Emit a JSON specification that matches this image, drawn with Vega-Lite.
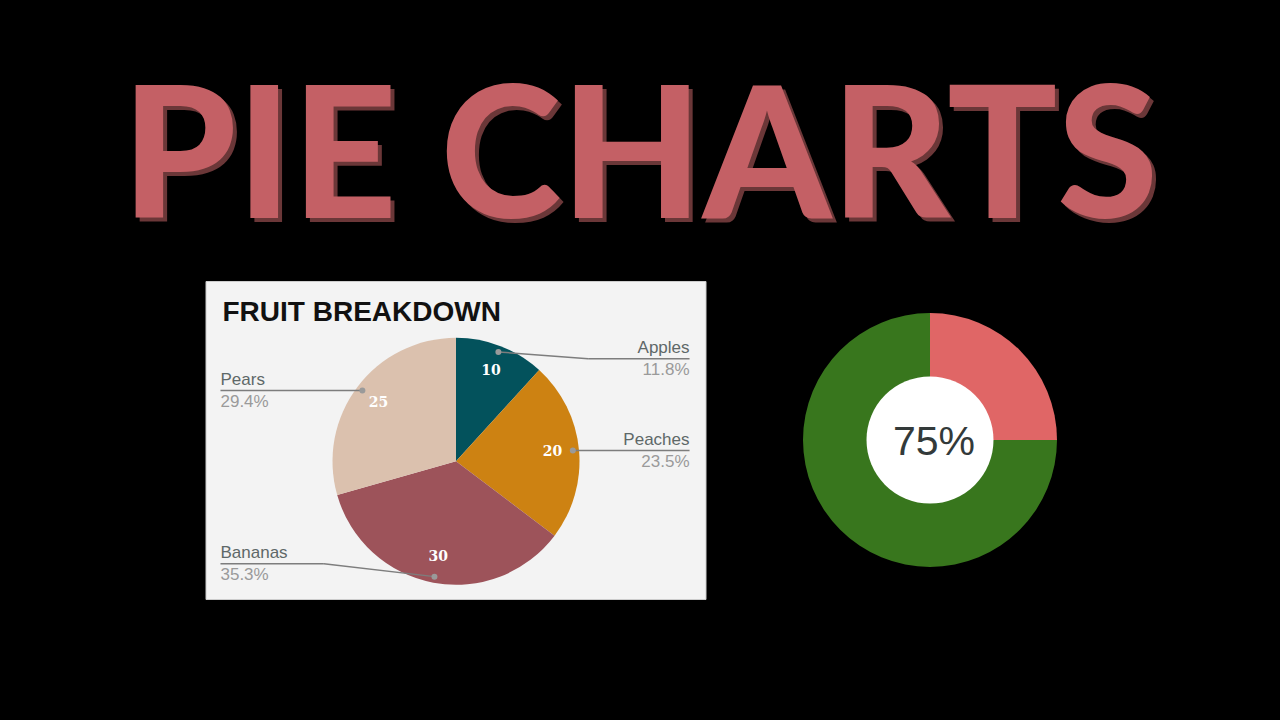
{
  "$schema": "https://vega.github.io/schema/vega-lite/v6.json",
  "background": "black",
  "padding": {"left": 0, "top": 0, "right": 0, "bottom": 122},
  "spacing": 0,
  "center": true,
  "config": {"view": {"stroke": null}},
  "resolve": {"scale": {"color": "independent", "theta": "independent"}},
  "vconcat": [
    {
      "width": 1280,
      "height": 280,
      "data": {"values": [{"t": "PIE CHARTS"}]},
      "layer": [
        {
          "mark": {"type": "text", "font": "Lato", "fontWeight": 900, "fontSize": 183, "align": "center", "baseline": "alphabetic", "fill": "#6b3738", "dx": 4, "dy": 82},
          "encoding": {"text": {"field": "t", "type": "nominal"}}
        },
        {
          "mark": {"type": "text", "font": "Lato", "fontWeight": 900, "fontSize": 183, "align": "center", "baseline": "alphabetic", "fill": "#c46065", "dy": 78},
          "encoding": {"text": {"field": "t", "type": "nominal"}}
        }
      ]
    },
    {
      "spacing": 79,
      "resolve": {"scale": {"color": "independent", "theta": "independent"}},
      "hconcat": [
        {
          "width": 500,
          "height": 318,
          "view": {"fill": "#f3f3f3", "stroke": "#cccccc", "strokeWidth": 1},
          "title": {"text": "FRUIT BREAKDOWN", "anchor": "start", "frame": "group", "offset": -68, "dx": 17, "baseline": "alphabetic", "font": "Liberation Sans", "fontSize": 28, "fontWeight": "bold", "color": "#111111"},
          "data": {"values": [
            {"fruit": "Apples", "value": 10},
            {"fruit": "Peaches", "value": 20},
            {"fruit": "Bananas", "value": 30},
            {"fruit": "Pears", "value": 25}
          ]},
          "transform": [
            {"window": [{"op": "row_number", "as": "i"}]},
            {"joinaggregate": [{"op": "sum", "field": "value", "as": "total"}]},
            {"window": [{"op": "sum", "field": "value", "as": "cum"}], "sort": [{"field": "i"}], "frame": [null, 0]},
            {"calculate": "2*PI*(datum.cum - datum.value/2)/datum.total", "as": "mid"},
            {"calculate": "datum.value/datum.total", "as": "pct"},
            {"calculate": "0.95*sin(datum.mid)", "as": "dx"},
            {"calculate": "0.95*cos(datum.mid)", "as": "dy"},
            {"calculate": "datum.dx > 0 ? 1 : -1", "as": "side"},
            {"calculate": "clamp(datum.dy, -0.83, 0.83)", "as": "ly"},
            {"calculate": "abs(datum.ly - datum.dy) < 1e-9 ? datum.dx : datum.side*1.07", "as": "bx"},
            {"calculate": "datum.side > 0 ? 1.891 : -1.907", "as": "ex"}
          ],
          "layer": [
            {
              "mark": {"type": "arc", "outerRadius": 123.5},
              "encoding": {
                "x": {"datum": 0, "type": "quantitative", "scale": {"domain": [-2.0283, 2.0202], "nice": false, "zero": false}, "axis": null},
                "y": {"datum": 0, "type": "quantitative", "scale": {"domain": [-1.115, 1.46], "nice": false, "zero": false}, "axis": null},
                "theta": {"field": "value", "type": "quantitative", "stack": true},
                "order": {"field": "i", "type": "quantitative"},
                "color": {"field": "fruit", "type": "nominal", "scale": {"domain": ["Apples", "Peaches", "Bananas", "Pears"], "range": ["#03525c", "#cd8212", "#9d535a", "#dbc1ae"]}, "legend": null}
              }
            },
            {
              "mark": {"type": "text", "radius": 97, "font": "DejaVu Serif", "fontWeight": "bold", "fontSize": 14, "fill": "white", "align": "center", "baseline": "middle"},
              "encoding": {
                "x": {"datum": 0, "type": "quantitative", "scale": {"domain": [-2.0283, 2.0202], "nice": false, "zero": false}, "axis": null},
                "y": {"datum": 0, "type": "quantitative", "scale": {"domain": [-1.115, 1.46], "nice": false, "zero": false}, "axis": null},
                "theta": {"field": "value", "type": "quantitative", "stack": true},
                "order": {"field": "i", "type": "quantitative"},
                "detail": {"field": "fruit", "type": "nominal"},
                "text": {"field": "value", "type": "quantitative"}
              }
            },
            {
              "mark": {"type": "rule", "color": "#7d7d7d", "strokeWidth": 1.5},
              "encoding": {
                "x": {"field": "dx", "type": "quantitative", "scale": {"domain": [-2.0283, 2.0202], "nice": false, "zero": false}, "axis": null},
                "y": {"field": "dy", "type": "quantitative", "scale": {"domain": [-1.115, 1.46], "nice": false, "zero": false}, "axis": null},
                "x2": {"field": "bx"},
                "y2": {"field": "ly"}
              }
            },
            {
              "mark": {"type": "rule", "color": "#7d7d7d", "strokeWidth": 1.5},
              "encoding": {
                "x": {"field": "bx", "type": "quantitative", "scale": {"domain": [-2.0283, 2.0202], "nice": false, "zero": false}, "axis": null},
                "y": {"field": "ly", "type": "quantitative", "scale": {"domain": [-1.115, 1.46], "nice": false, "zero": false}, "axis": null},
                "x2": {"field": "ex"},
                "y2": {"field": "ly"}
              }
            },
            {
              "mark": {"type": "point", "filled": true, "size": 36, "color": "#9a9a9a", "opacity": 1},
              "encoding": {
                "x": {"field": "dx", "type": "quantitative", "scale": {"domain": [-2.0283, 2.0202], "nice": false, "zero": false}, "axis": null},
                "y": {"field": "dy", "type": "quantitative", "scale": {"domain": [-1.115, 1.46], "nice": false, "zero": false}, "axis": null}
              }
            },
            {
              "mark": {"type": "text", "font": "Liberation Sans", "fontSize": 17, "fill": "#5e6868", "baseline": "alphabetic", "dy": -5.5, "align": {"expr": "datum.side > 0 ? 'right' : 'left'"}},
              "encoding": {
                "x": {"field": "ex", "type": "quantitative", "scale": {"domain": [-2.0283, 2.0202], "nice": false, "zero": false}, "axis": null},
                "y": {"field": "ly", "type": "quantitative", "scale": {"domain": [-1.115, 1.46], "nice": false, "zero": false}, "axis": null},
                "text": {"field": "fruit", "type": "nominal"}
              }
            },
            {
              "mark": {"type": "text", "font": "Liberation Sans", "fontSize": 17, "fill": "#9a9a9a", "baseline": "alphabetic", "dy": 16.5, "align": {"expr": "datum.side > 0 ? 'right' : 'left'"}},
              "encoding": {
                "x": {"field": "ex", "type": "quantitative", "scale": {"domain": [-2.0283, 2.0202], "nice": false, "zero": false}, "axis": null},
                "y": {"field": "ly", "type": "quantitative", "scale": {"domain": [-1.115, 1.46], "nice": false, "zero": false}, "axis": null},
                "text": {"field": "pct", "type": "quantitative", "format": ".1%"}
              }
            }
          ]
        },
        {
          "width": 289,
          "height": 318,
          "data": {"values": [
            {"part": "Remaining", "value": 25},
            {"part": "Complete", "value": 75}
          ]},
          "transform": [
            {"window": [{"op": "row_number", "as": "i"}]},
            {"joinaggregate": [{"op": "sum", "field": "value", "as": "total"}]},
            {"calculate": "datum.value/datum.total", "as": "pct"}
          ],
          "layer": [
            {
              "mark": {"type": "arc", "outerRadius": 127},
              "encoding": {
                "theta": {"field": "value", "type": "quantitative", "stack": true},
                "order": {"field": "i", "type": "quantitative"},
                "color": {"field": "part", "type": "nominal", "scale": {"domain": ["Remaining", "Complete"], "range": ["#e06666", "#38761d"]}, "legend": null}
              }
            },
            {
              "transform": [{"filter": "datum.part == 'Complete'"}],
              "mark": {"type": "point", "filled": true, "shape": "circle", "size": 16129, "color": "white", "opacity": 1, "strokeWidth": 0},
              "encoding": {}
            },
            {
              "transform": [{"filter": "datum.part == 'Complete'"}],
              "mark": {"type": "text", "font": "Liberation Sans", "fontSize": 41, "fill": "#333a3a", "align": "center", "baseline": "alphabetic", "dx": 4, "dy": 15},
              "encoding": {"text": {"field": "pct", "type": "quantitative", "format": ".0%"}}
            }
          ]
        }
      ]
    }
  ]
}
